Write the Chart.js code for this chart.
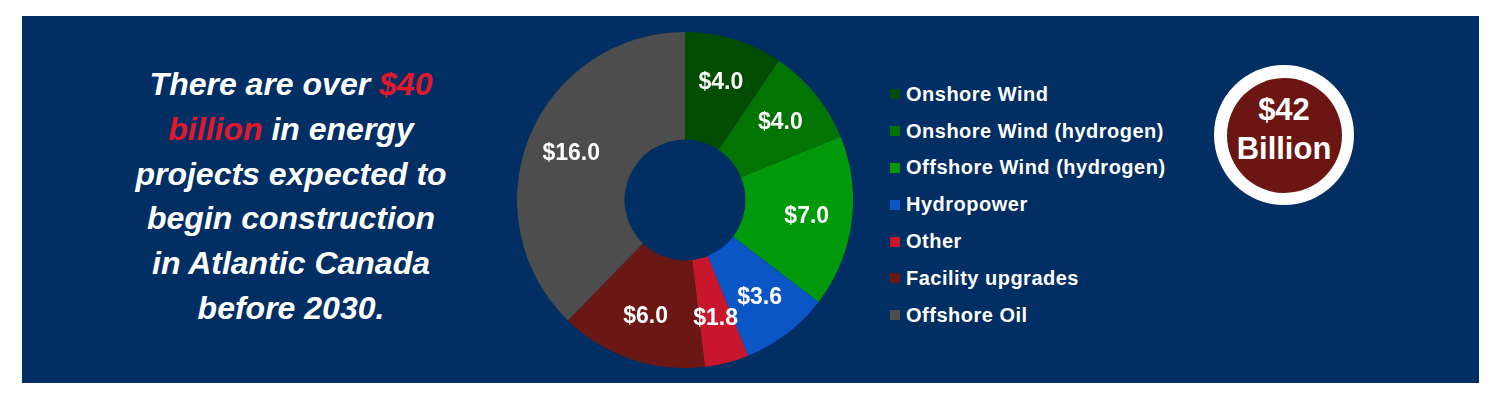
<!DOCTYPE html>
<html>
<head>
<meta charset="utf-8">
<script src="https://cdn.jsdelivr.net/npm/chart.js@4.4.1/dist/chart.umd.min.js"></script>
<style>
    html, body { margin: 0; padding: 0; background: #ffffff; width: 1500px; height: 400px; overflow: hidden; }
    body { font-family: "Liberation Sans", Arial, sans-serif; position: relative; }
    .panel { position: absolute; left: 22px; top: 16px; width: 1457px; height: 367px; background: #012e63; }
    .headline { position: absolute; left: 91px; top: 62px; width: 400px; text-align: center; color: #ffffff;
        font-weight: bold; font-style: italic; font-size: 32px; line-height: 44.8px; white-space: nowrap; }
    .headline .hl { color: #e3182d; }
    .chart-box { position: absolute; left: 517px; top: 32px; width: 336px; height: 336px; }
    .legend { position: absolute; left: 890px; top: 76px; color: #ffffff; font-weight: bold; font-size: 20px; letter-spacing: 0.5px; }
    .legend .item { height: 36.8px; display: flex; align-items: center; }
    .legend .swatch { width: 10px; height: 10px; margin-right: 6px; }
    .badge { position: absolute; left: 1214px; top: 65px; width: 140px; height: 140px; border-radius: 50%; background: #ffffff; }
    .badge .inner { position: absolute; left: 12.5px; top: 12.5px; width: 115px; height: 115px; border-radius: 50%; background: #6b1612;
        color: #ffffff; font-weight: bold; font-size: 31px; line-height: 39px; text-align: center; display: flex;
        flex-direction: column; justify-content: center; box-sizing: border-box; padding-bottom: 13px; }
</style>
</head>
<body>
<div class="panel"></div>
<div class="headline">There are over <span class="hl">$40</span><br><span class="hl">billion</span> in energy<br>projects expected to<br>begin construction<br>in Atlantic Canada<br>before 2030.</div>
<div class="chart-box"><canvas id="donutChart"></canvas></div>
<div class="legend" id="legend"></div>
<div class="badge"><div class="inner"><div>$42</div><div>Billion</div></div></div>

<script>
// Datos del grafico (miles de millones)
const categories = ['Onshore Wind', 'Onshore Wind (hydrogen)', 'Offshore Wind (hydrogen)', 'Hydropower', 'Other', 'Facility upgrades', 'Offshore Oil'];
const values = [4.0, 4.0, 7.0, 3.6, 1.8, 6.0, 16.0];
const colors = ['#034c03', '#027402', '#02990b', '#0b56c6', '#c8172a', '#6b1713', '#4d4d4d'];

// Leyenda en HTML
const legend = document.getElementById('legend');
legend.innerHTML = categories.map((c, i) =>
    `<div class="item"><span class="swatch" style="background:${colors[i]}"></span>${c}</div>`
).join('');

// Etiquetas de valor dentro de cada segmento
const valueLabels = {
    id: 'valueLabels',
    afterDatasetsDraw(chart) {
        const ctx = chart.ctx;
        const meta = chart.getDatasetMeta(0);
        ctx.save();
        ctx.fillStyle = '#ffffff';
        ctx.font = 'bold 23px "Liberation Sans", Arial, sans-serif';
        ctx.textAlign = 'center';
        ctx.textBaseline = 'middle';
        meta.data.forEach((arc, i) => {
            const p = arc.getProps(['x', 'y', 'startAngle', 'endAngle', 'innerRadius', 'outerRadius'], true);
            const mid = (p.startAngle + p.endAngle) / 2;
            const r = p.innerRadius + (p.outerRadius - p.innerRadius) * 0.58;
            ctx.fillText('$' + values[i].toFixed(1), p.x + Math.cos(mid) * r, p.y + Math.sin(mid) * r);
        });
        ctx.restore();
    }
};

const donutCtx = document.getElementById('donutChart').getContext('2d');
const donutChart = new Chart(donutCtx, {
    type: 'doughnut',
    data: {
        labels: categories,
        datasets: [{
            data: values,
            backgroundColor: colors,
            borderWidth: 0
        }]
    },
    options: {
        responsive: true,
        maintainAspectRatio: false,
        animation: false,
        cutout: '36%',
        layout: { padding: 0 },
        plugins: {
            legend: { display: false },
            tooltip: { enabled: false }
        }
    },
    plugins: [valueLabels]
});
</script>
</body>
</html>
